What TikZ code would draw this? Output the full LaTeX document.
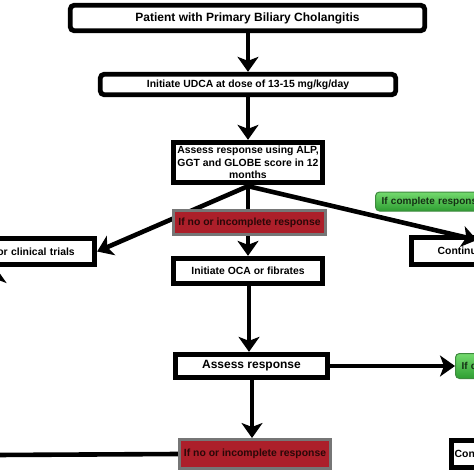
\documentclass[tikz,border=0pt]{standalone}
\usepackage{fontspec}
\setmainfont{Liberation Sans}
\usetikzlibrary{arrows.meta,backgrounds}
\definecolor{redfill}{HTML}{AC1F2A}
\definecolor{redborder}{HTML}{767676}
\definecolor{redtext}{HTML}{2A0808}
\definecolor{greentop}{HTML}{74DA6E}
\definecolor{greenbot}{HTML}{2E9E32}
\definecolor{greenborder}{HTML}{3E8A3E}
\definecolor{greentext}{HTML}{143014}
\tikzset{
  box/.style={draw=black, line width=4.8pt, fill=white, inner sep=0pt,
    font=\bfseries\fontsize{10.4}{12.5}\selectfont, align=center},
  rbox/.style={box, rounded corners=4pt},
  bigtxt/.style={font=\bfseries\fontsize{12}{14}\selectfont},
  redbox/.style={draw=redborder, line width=3pt, fill=redfill, inner sep=0pt,
    text=redtext, font=\bfseries\fontsize{10.4}{12.5}\selectfont},
  greenbox/.style={draw=greenborder, line width=1pt, rounded corners=4pt,
    top color=greentop, bottom color=greenbot, inner sep=0pt,
    text=greentext, font=\bfseries\fontsize{10}{12}\selectfont},
  arr/.style={line width=4.6pt, -{Stealth[length=15pt,width=21pt,inset=4pt]}}
}
\begin{document}
\begin{tikzpicture}[x=1pt,y=-1pt]
\useasboundingbox (0,0) rectangle (474,474);
\clip (0,0) rectangle (474,474);

\node[rbox, bigtxt, minimum width=354.5pt, minimum height=25.5pt] (b1) at (247.5,18) {Patient with Primary Biliary Cholangitis};
\node[rbox, minimum width=295.5pt, minimum height=20.5pt] (b2) at (248,84.5) {Initiate UDCA at dose of 13-15 mg/kg/day};
\node[box, minimum width=149.5pt, minimum height=40.5pt] (b3) at (248,162.5) {Assess response using ALP,\\GGT and GLOBE score in 12\\months};
\node[redbox, minimum width=152pt, minimum height=24pt] (r1) at (249.5,222.5) {If no or incomplete response};
\node[box, minimum width=149.5pt, minimum height=25.5pt] (b4) at (248,271) {Initiate OCA or fibrates};
\node[box, text width=112.5pt, align=right, inner xsep=20pt, minimum height=26.5pt] (ct) at (18.5,251.5) {or clinical trials};
\node[greenbox, text width=120pt, align=left, inner xsep=6pt, minimum height=19pt, anchor=west] (g1) at (375,201.5) {If complete respons};
\node[box, text width=120pt, align=left, inner xsep=26pt, minimum height=27.5pt, anchor=west] (cu) at (409.25,251) {Continu};
\node[box, bigtxt, minimum width=152.5pt, minimum height=23.5pt] (b5) at (251.5,366) {Assess response};
\node[greenbox, text width=60pt, align=left, inner xsep=6pt, minimum height=25pt, anchor=west] (g2) at (455,366) {If c};
\node[redbox, minimum width=151pt, minimum height=29pt] (r2) at (255,454) {If no or incomplete response};
\node[box, text width=60pt, align=left, inner xsep=3pt, minimum height=27.5pt, anchor=west] (co) at (449.25,454) {Cont};

\coordinate (ctin) at (-4,268);
\coordinate (corner) at (-4,455);
\coordinate (cuin) at (477,240);

\begin{scope}[on background layer]
\fill[white] (0,0) rectangle (474,474);
\draw[arr] (b1.south -| 248,0) -- (b2.north -| 248,0);
\draw[arr] (b2.south -| 248,0) -- (b3.north -| 248,0);
\draw[arr] (b3.south) -- (b4.north);
\draw[arr] ([yshift=-1pt]b3.south) -- (ct.east);
\draw[arr] (b4.south -| 249,0) -- (b5.north -| 249,0);
\draw[arr] (b5.east) -- (g2.west);
\draw[arr] (b5.south -| 252,0) -- (r2.north -| 252,0);
\draw[arr] (r2.west) -- (corner) -- (ctin);
\end{scope}
\draw[arr] ([yshift=-1pt]b3.south) -- (cuin);
\end{tikzpicture}
\end{document}
